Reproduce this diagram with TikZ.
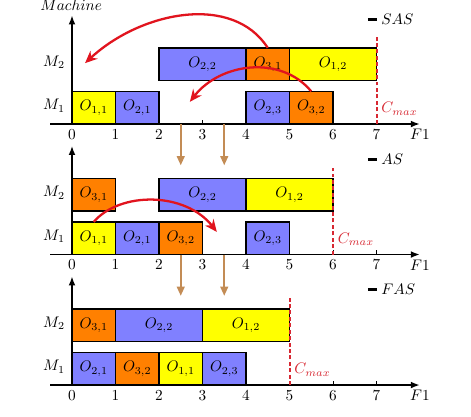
\documentclass[tikz,border=0pt]{standalone}
\usetikzlibrary{arrows.meta}
\definecolor{jobblue}{RGB}{128,128,255}
\definecolor{joborange}{RGB}{255,128,0}
\definecolor{jobyellow}{RGB}{255,255,0}
\definecolor{arrred}{RGB}{225,20,30}
\definecolor{cmaxred}{RGB}{215,40,50}
\definecolor{shiftbrown}{RGB}{195,140,85}
\tikzset{
  opbox/.style={draw=black, line width=0.8pt, inner sep=0pt, outer sep=0pt, minimum height=0.75cm, anchor=south west},
  axisline/.style={line width=1.2pt, -{Latex[length=6pt,width=4.5pt]}},
  tickline/.style={line width=0.4pt},
  cmaxline/.style={cmaxred, line width=1.3pt, dash pattern=on 2.6pt off 1.6pt},
  movearrow/.style={arrred, line width=1.5pt, -{Stealth[length=8pt,width=7pt]}},
  shiftarrow/.style={shiftbrown, line width=1.3pt, -{Triangle[length=6pt,width=5pt]}},
  legendmark/.style={line width=2pt},
  ticklabel/.style={inner sep=1pt},
}
\newcommand\opnode[6]{\node[opbox, fill=#5, minimum width=#4cm] (#1) at (#2,#3) {$#6$};}
\newcommand\ganttaxes[2]{%
  \coordinate (#1xs) at (-0.5,#2);
  \coordinate (#1xe) at (8,#2);
  \coordinate (#1o) at (0,#2);
  \coordinate (#1ye) at (0,#2+2.5);
  \foreach \i in {0,...,7}{
    \coordinate (#1t\i) at (\i,#2);
    \coordinate (#1u\i) at (\i,#2+0.1);
    \draw[tickline] (#1t\i) -- (#1u\i);
    \node[ticklabel] (#1l\i) at (\i,#2-0.24) {$\i$};
  }
  \draw[axisline] (#1xs) -- (#1xe);
  \draw[axisline] (#1o) -- (#1ye);
  \node[ticklabel] (#1f) at (8.0,#2-0.24) {$F1$};
  \node[anchor=east, inner sep=1pt] (#1ma) at (-0.12,#2+0.42) {$M_1$};
  \node[anchor=east, inner sep=1pt] (#1mb) at (-0.12,#2+1.42) {$M_2$};
}
\begin{document}
\begin{tikzpicture}
\useasboundingbox (-1.655,-0.713) rectangle (9.172,8.851);

% ---------- panel 1 (SAS) ----------
\ganttaxes{pa}{6}
\node[anchor=base, inner sep=1pt] (machine) at (-0.02,8.62) {$Machine$};
\opnode{paa}{0}{6}{1}{jobyellow}{O_{1,1}}
\opnode{pab}{1}{6}{1}{jobblue}{O_{2,1}}
\opnode{pac}{4}{6}{1}{jobblue}{O_{2,3}}
\opnode{pad}{5}{6}{1}{joborange}{O_{3,2}}
\opnode{pae}{2}{7}{2}{jobblue}{O_{2,2}}
\opnode{paf}{4}{7}{1}{joborange}{O_{3,1}}
\opnode{pag}{5}{7}{2}{jobyellow}{O_{1,2}}
\coordinate (pacb) at (7,6);
\coordinate (pact) at (7,8);
\draw[cmaxline] (pacb) -- (pact);
\node[anchor=west, inner sep=1pt, text=cmaxred] (pacm) at (7.07,6.35) {$C_{max}$};
\coordinate (pal1) at (6.8,8.4);
\coordinate (pal2) at (7.0,8.4);
\draw[legendmark] (pal1) -- (pal2);
\node[anchor=west, inner sep=1pt] (palt) at (7.07,8.4) {$SAS$};
\coordinate (paea) at (0.3,7.4);
\coordinate (paeb) at (2.71,6.51);
\draw[movearrow] (paf.north) .. controls (3.7,9.0) and (1.6,8.6) .. (paea);
\draw[movearrow] (pad.north) .. controls (4.8,7.6) and (3.4,7.4) .. (paeb);
\coordinate (pas1) at (2.5,6);
\coordinate (pae1) at (2.5,5.05);
\coordinate (pas2) at (3.5,6);
\coordinate (pae2) at (3.5,5.05);
\draw[shiftarrow] (pas1) -- (pae1);
\draw[shiftarrow] (pas2) -- (pae2);

% ---------- panel 2 (AS) ----------
\ganttaxes{pb}{3}
\opnode{pba}{0}{3}{1}{jobyellow}{O_{1,1}}
\opnode{pbb}{1}{3}{1}{jobblue}{O_{2,1}}
\opnode{pbc}{2}{3}{1}{joborange}{O_{3,2}}
\opnode{pbd}{4}{3}{1}{jobblue}{O_{2,3}}
\opnode{pbe}{0}{4}{1}{joborange}{O_{3,1}}
\opnode{pbf}{2}{4}{2}{jobblue}{O_{2,2}}
\opnode{pbg}{4}{4}{2}{jobyellow}{O_{1,2}}
\coordinate (pbcb) at (6,3);
\coordinate (pbct) at (6,5);
\draw[cmaxline] (pbcb) -- (pbct);
\node[anchor=west, inner sep=1pt, text=cmaxred] (pbcm) at (6.07,3.35) {$C_{max}$};
\coordinate (pbl1) at (6.8,5.19);
\coordinate (pbl2) at (7.0,5.19);
\draw[legendmark] (pbl1) -- (pbl2);
\node[anchor=west, inner sep=1pt] (pblt) at (7.07,5.19) {$AS$};
\coordinate (pbea) at (3.33,3.52);
\draw[movearrow] (pba.north) .. controls (1.1,4.45) and (2.6,4.45) .. (pbea);
\coordinate (pbs1) at (2.5,3);
\coordinate (pbe1) at (2.5,2.05);
\coordinate (pbs2) at (3.5,3);
\coordinate (pbe2) at (3.5,2.05);
\draw[shiftarrow] (pbs1) -- (pbe1);
\draw[shiftarrow] (pbs2) -- (pbe2);

% ---------- panel 3 (FAS) ----------
\ganttaxes{pc}{0}
\opnode{pca}{0}{0}{1}{jobblue}{O_{2,1}}
\opnode{pcb}{1}{0}{1}{joborange}{O_{3,2}}
\opnode{pcc}{2}{0}{1}{jobyellow}{O_{1,1}}
\opnode{pcd}{3}{0}{1}{jobblue}{O_{2,3}}
\opnode{pce}{0}{1}{1}{joborange}{O_{3,1}}
\opnode{pcf}{1}{1}{2}{jobblue}{O_{2,2}}
\opnode{pcg}{3}{1}{2}{jobyellow}{O_{1,2}}
\coordinate (pccb) at (5,0);
\coordinate (pcct) at (5,2);
\draw[cmaxline] (pccb) -- (pcct);
\node[anchor=west, inner sep=1pt, text=cmaxred] (pccm) at (5.07,0.35) {$C_{max}$};
\coordinate (pcl1) at (6.8,2.19);
\coordinate (pcl2) at (7.0,2.19);
\draw[legendmark] (pcl1) -- (pcl2);
\node[anchor=west, inner sep=1pt] (pclt) at (7.07,2.19) {$FAS$};
\end{tikzpicture}
\end{document}
